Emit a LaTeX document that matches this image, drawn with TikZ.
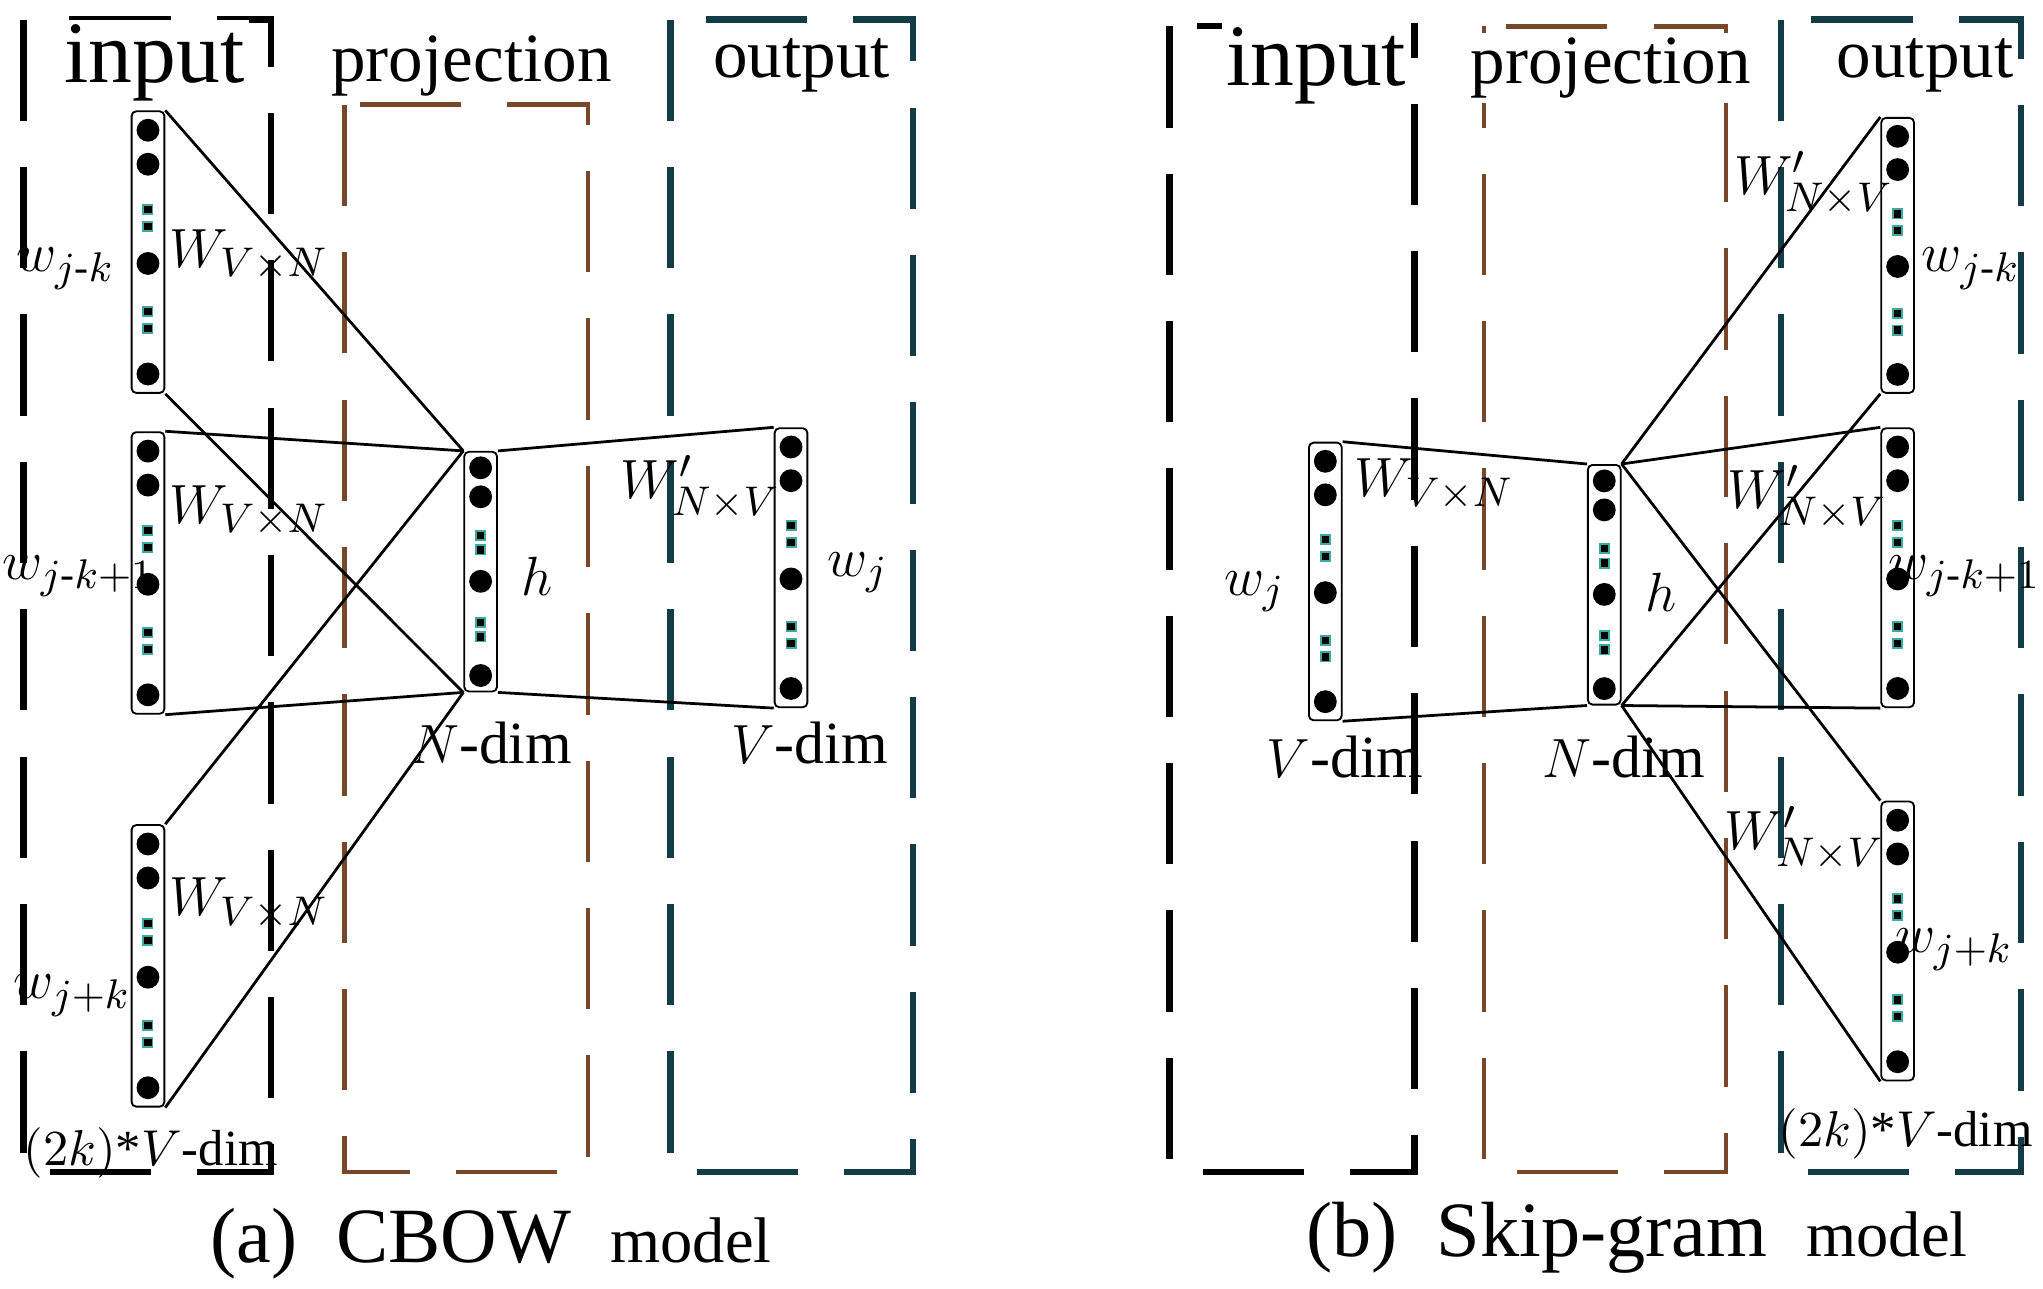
\documentclass[tikz,border=0pt]{standalone}
\usepackage{amsmath}
\usepackage{fontspec}
\setmainfont{Liberation Serif}
\usetikzlibrary{calc}
\definecolor{projc}{RGB}{120,70,40}
\definecolor{outc}{RGB}{20,60,70}
\definecolor{sqc}{RGB}{60,170,160}
\begin{document}
\begin{tikzpicture}[x=0.01cm,y=-0.01cm,
    vbox/.style={draw,rounded corners=1pt,minimum width=0.25cm,inner sep=0pt},
    dot/.style={circle,fill=black,draw=black,minimum size=0.16cm,inner sep=0pt},
    sq/.style={rectangle,fill=black,draw=sqc,minimum size=0.07cm,inner sep=0pt},
    inbox/.style={dash pattern=on 22pt off 10pt,line width=1.4pt},
    link/.style={line width=0.6pt},
    big/.style={font=\fontsize{19}{21}\selectfont},
    mid/.style={font=\fontsize{15}{17}\selectfont},
    lab/.style={font=\fontsize{13}{15}\selectfont},
    captxt/.style={font=\fontsize{17}{19}\selectfont}]
\useasboundingbox (0,0) rectangle (1560,984);
\newcommand\vecnode[4]{% name, x, ytop, ybot
  \pgfmathsetmacro\hh{(#4-#3)*0.01}
  \node[vbox,minimum height=\hh cm] (#1) at (#2,{(#3+#4)/2}) {};
  \foreach \f/\s in {0.07/dot,0.19/dot,0.35/sq,0.41/sq,0.54/dot,0.71/sq,0.77/sq,0.93/dot}
    \node[\s] at ($(#1.north)!\f!(#1.south)$) {};
}
% ---- (a) CBOW ----
\draw[inbox] (18,15) rectangle (207,895);
\draw[inbox,draw=projc,line width=1pt] (263,80) rectangle (449,895);
\draw[inbox,draw=outc] (512,15) rectangle (697,895);
\vecnode{a1}{113}{85}{300}
\vecnode{a2}{113}{330}{545}
\vecnode{a3}{113}{630}{845}
\vecnode{ah}{367}{345}{528}
\vecnode{ao}{604}{327}{540}
\foreach \v in {a1,a2,a3}{
  \draw[link] (\v.north east) -- (ah.north west);
  \draw[link] (\v.south east) -- (ah.south west);}
\draw[link] (ah.north east) -- (ao.north west);
\draw[link] (ah.south east) -- (ao.south west);
\node[big,fill=white,inner sep=1pt] at (118,48) {input};
\node[mid,fill=white,inner sep=1pt] at (360,50) {projection};
\node[mid,fill=white,inner sep=1pt] at (612,50) {output};
\node[lab] at (50,205) {$w_{j\text{-}k}$};
\node[lab] at (190,195) {$W_{V\times N}$};
\node[lab] at (60,440) {$w_{j\text{-}k+1}$};
\node[lab] at (190,390) {$W_{V\times N}$};
\node[lab] at (190,690) {$W_{V\times N}$};
\node[lab] at (55,760) {$w_{j+k}$};
\node[lab] at (410,440) {$h$};
\node[lab] at (535,372) {$W'_{N\times V}$};
\node[lab] at (655,437) {$w_j$};
\node[lab] at (375,567) {$N$-dim};
\node[lab] at (618,567) {$V$-dim};
\node[lab,font=\fontsize{11}{13}\selectfont] at (115,880) {$(2k)$*$V$-dim};
\node[captxt] at (375,950) {(a)\ \ CBOW\ \ {\fontsize{14}{16}\selectfont model}};
% ---- (b) Skip-gram ----
\draw[inbox] (893,20) rectangle (1080,895);
\draw[inbox,draw=projc,line width=1pt] (1133,20) rectangle (1318,895);
\draw[inbox,draw=outc] (1360,15) rectangle (1543,895);
\vecnode{bi}{1012}{338}{550}
\vecnode{bh}{1225}{355}{538}
\vecnode{b1}{1449}{90}{300}
\vecnode{b2}{1449}{327}{540}
\vecnode{b3}{1449}{612}{825}
\draw[link] (bi.north east) -- (bh.north west);
\draw[link] (bi.south east) -- (bh.south west);
\foreach \v in {b1,b2,b3}{
  \draw[link] (bh.north east) -- (\v.north west);
  \draw[link] (bh.south east) -- (\v.south west);}
\node[big,fill=white,inner sep=1pt] at (1005,50) {input};
\node[mid,fill=white,inner sep=1pt] at (1230,52) {projection};
\node[mid,fill=white,inner sep=1pt] at (1470,50) {output};
\node[lab] at (1385,140) {$W'_{N\times V}$};
\node[lab] at (1505,205) {$w_{j\text{-}k}$};
\node[lab] at (1095,370) {$W_{V\times N}$};
\node[lab] at (1380,380) {$W'_{N\times V}$};
\node[lab] at (958,452) {$w_j$};
\node[lab] at (1268,452) {$h$};
\node[lab] at (1500,440) {$w_{j\text{-}k+1}$};
\node[lab] at (1027,578) {$V$-dim};
\node[lab] at (1240,578) {$N$-dim};
\node[lab] at (1378,640) {$W'_{N\times V}$};
\node[lab] at (1492,725) {$w_{j+k}$};
\node[lab,font=\fontsize{11}{13}\selectfont] at (1455,866) {$(2k)$*$V$-dim};
\node[captxt] at (1250,945) {(b)\ \ Skip-gram\ \ {\fontsize{14}{16}\selectfont model}};
\end{tikzpicture}
\end{document}
